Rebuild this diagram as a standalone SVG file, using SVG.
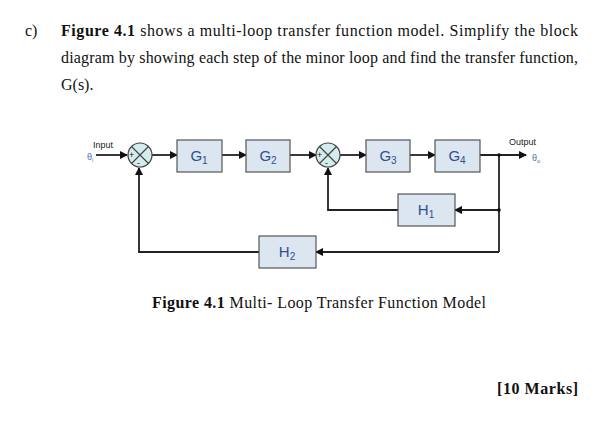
<svg xmlns="http://www.w3.org/2000/svg" width="605" height="421" viewBox="0 0 605 421">
<style>
.t{font-family:"Liberation Serif",serif;font-size:16px;fill:#111}
.b{fill:#dce6f1;stroke:#555;stroke-width:1.2}
.bl{font-family:"Liberation Sans",Arial,sans-serif;font-size:15px;fill:#2f4f8f;text-anchor:middle}
.s{fill:#d5ecef;stroke:#444;stroke-width:1.2}
.w{stroke:#222;stroke-width:1.8;fill:none}
.sm{font-family:"Liberation Sans",Arial,sans-serif;font-size:9px;fill:#222}
</style>
<defs><marker id="a" markerWidth="8" markerHeight="8" refX="7" refY="4" orient="auto" markerUnits="userSpaceOnUse"><path d="M0,0L8,4L0,8z" fill="#111"/></marker></defs>
<rect width="605" height="421" fill="#fff"/>
<text class="t" x="25" y="36">c)</text>
<text class="t" x="61" y="36" textLength="517" lengthAdjust="spacing"><tspan font-weight="bold">Figure 4.1</tspan> shows a multi-loop transfer function model. Simplify the block</text>
<text class="t" x="61" y="63" textLength="517" lengthAdjust="spacing">diagram by showing each step of the minor loop and find the transfer function,</text>
<text class="t" x="61" y="90">G(s).</text>
<g id="connectors">
<path class="w" d="M96,155H127" marker-end="url(#a)"/>
<path class="w" d="M152,155H177" marker-end="url(#a)"/>
<path class="w" d="M222,155H246" marker-end="url(#a)"/>
<path class="w" d="M290,155H316" marker-end="url(#a)"/>
<path class="w" d="M340,155H366" marker-end="url(#a)"/>
<path class="w" d="M410,155H435" marker-end="url(#a)"/>
<path class="w" d="M480,155H526" marker-end="url(#a)"/>
<path class="w" d="M499,155V252"/>
<path class="w" d="M499,210H455" marker-end="url(#a)"/>
<path class="w" d="M398,210H328V168" marker-end="url(#a)"/>
<path class="w" d="M499,252H316" marker-end="url(#a)"/>
<path class="w" d="M259,252H139V168" marker-end="url(#a)"/>
<circle cx="499" cy="155" r="1.8" fill="#111"/><circle cx="499" cy="210" r="1.8" fill="#111"/>
</g>
<text class="sm" x="93" y="148">Input</text>
<text class="sm" x="87" y="160" style="fill:#4a6fa5">θ<tspan font-size="6" dy="2">i</tspan></text>
<text class="sm" x="509" y="145">Output</text>
<text class="sm" x="532" y="161" style="fill:#4a6fa5">θ<tspan font-size="6" dy="2">o</tspan></text>
<g id="sum1"><circle class="s" cx="140" cy="155" r="12"/><path d="M131.5,146.5l17,17M148.5,146.5l-17,17" stroke="#444" stroke-width="1.2"/><text class="sm" x="129" y="158" font-size="8">+</text><text class="sm" x="137" y="166" font-size="8">-</text></g>
<g id="sum2"><circle class="s" cx="328" cy="155" r="12"/><path d="M319.5,146.5l17,17M336.5,146.5l-17,17" stroke="#444" stroke-width="1.2"/><text class="sm" x="317" y="158" font-size="8">+</text><text class="sm" x="325" y="166" font-size="8">-</text></g>
<g id="G1"><rect class="b" x="177" y="140" width="45" height="32"/><text class="bl" x="199" y="161">G<tspan font-size="10" dy="3">1</tspan></text></g>
<g id="G2"><rect class="b" x="246" y="140" width="44" height="32"/><text class="bl" x="268" y="161">G<tspan font-size="10" dy="3">2</tspan></text></g>
<g id="G3"><rect class="b" x="366" y="140" width="44" height="32"/><text class="bl" x="388" y="161">G<tspan font-size="10" dy="3">3</tspan></text></g>
<g id="G4"><rect class="b" x="435" y="140" width="45" height="32"/><text class="bl" x="457" y="161">G<tspan font-size="10" dy="3">4</tspan></text></g>
<g id="H1"><rect class="b" x="398" y="194" width="57" height="32"/><text class="bl" x="426" y="215">H<tspan font-size="10" dy="3">1</tspan></text></g>
<g id="H2"><rect class="b" x="259" y="236" width="57" height="32"/><text class="bl" x="287" y="257">H<tspan font-size="10" dy="3">2</tspan></text></g>
<text class="t" x="152" y="308" textLength="334" lengthAdjust="spacing"><tspan font-weight="bold">Figure 4.1</tspan> Multi- Loop Transfer Function Model</text>
<text class="t" x="497" y="394" textLength="81" lengthAdjust="spacing" font-weight="bold">[10 Marks]</text>
</svg>
